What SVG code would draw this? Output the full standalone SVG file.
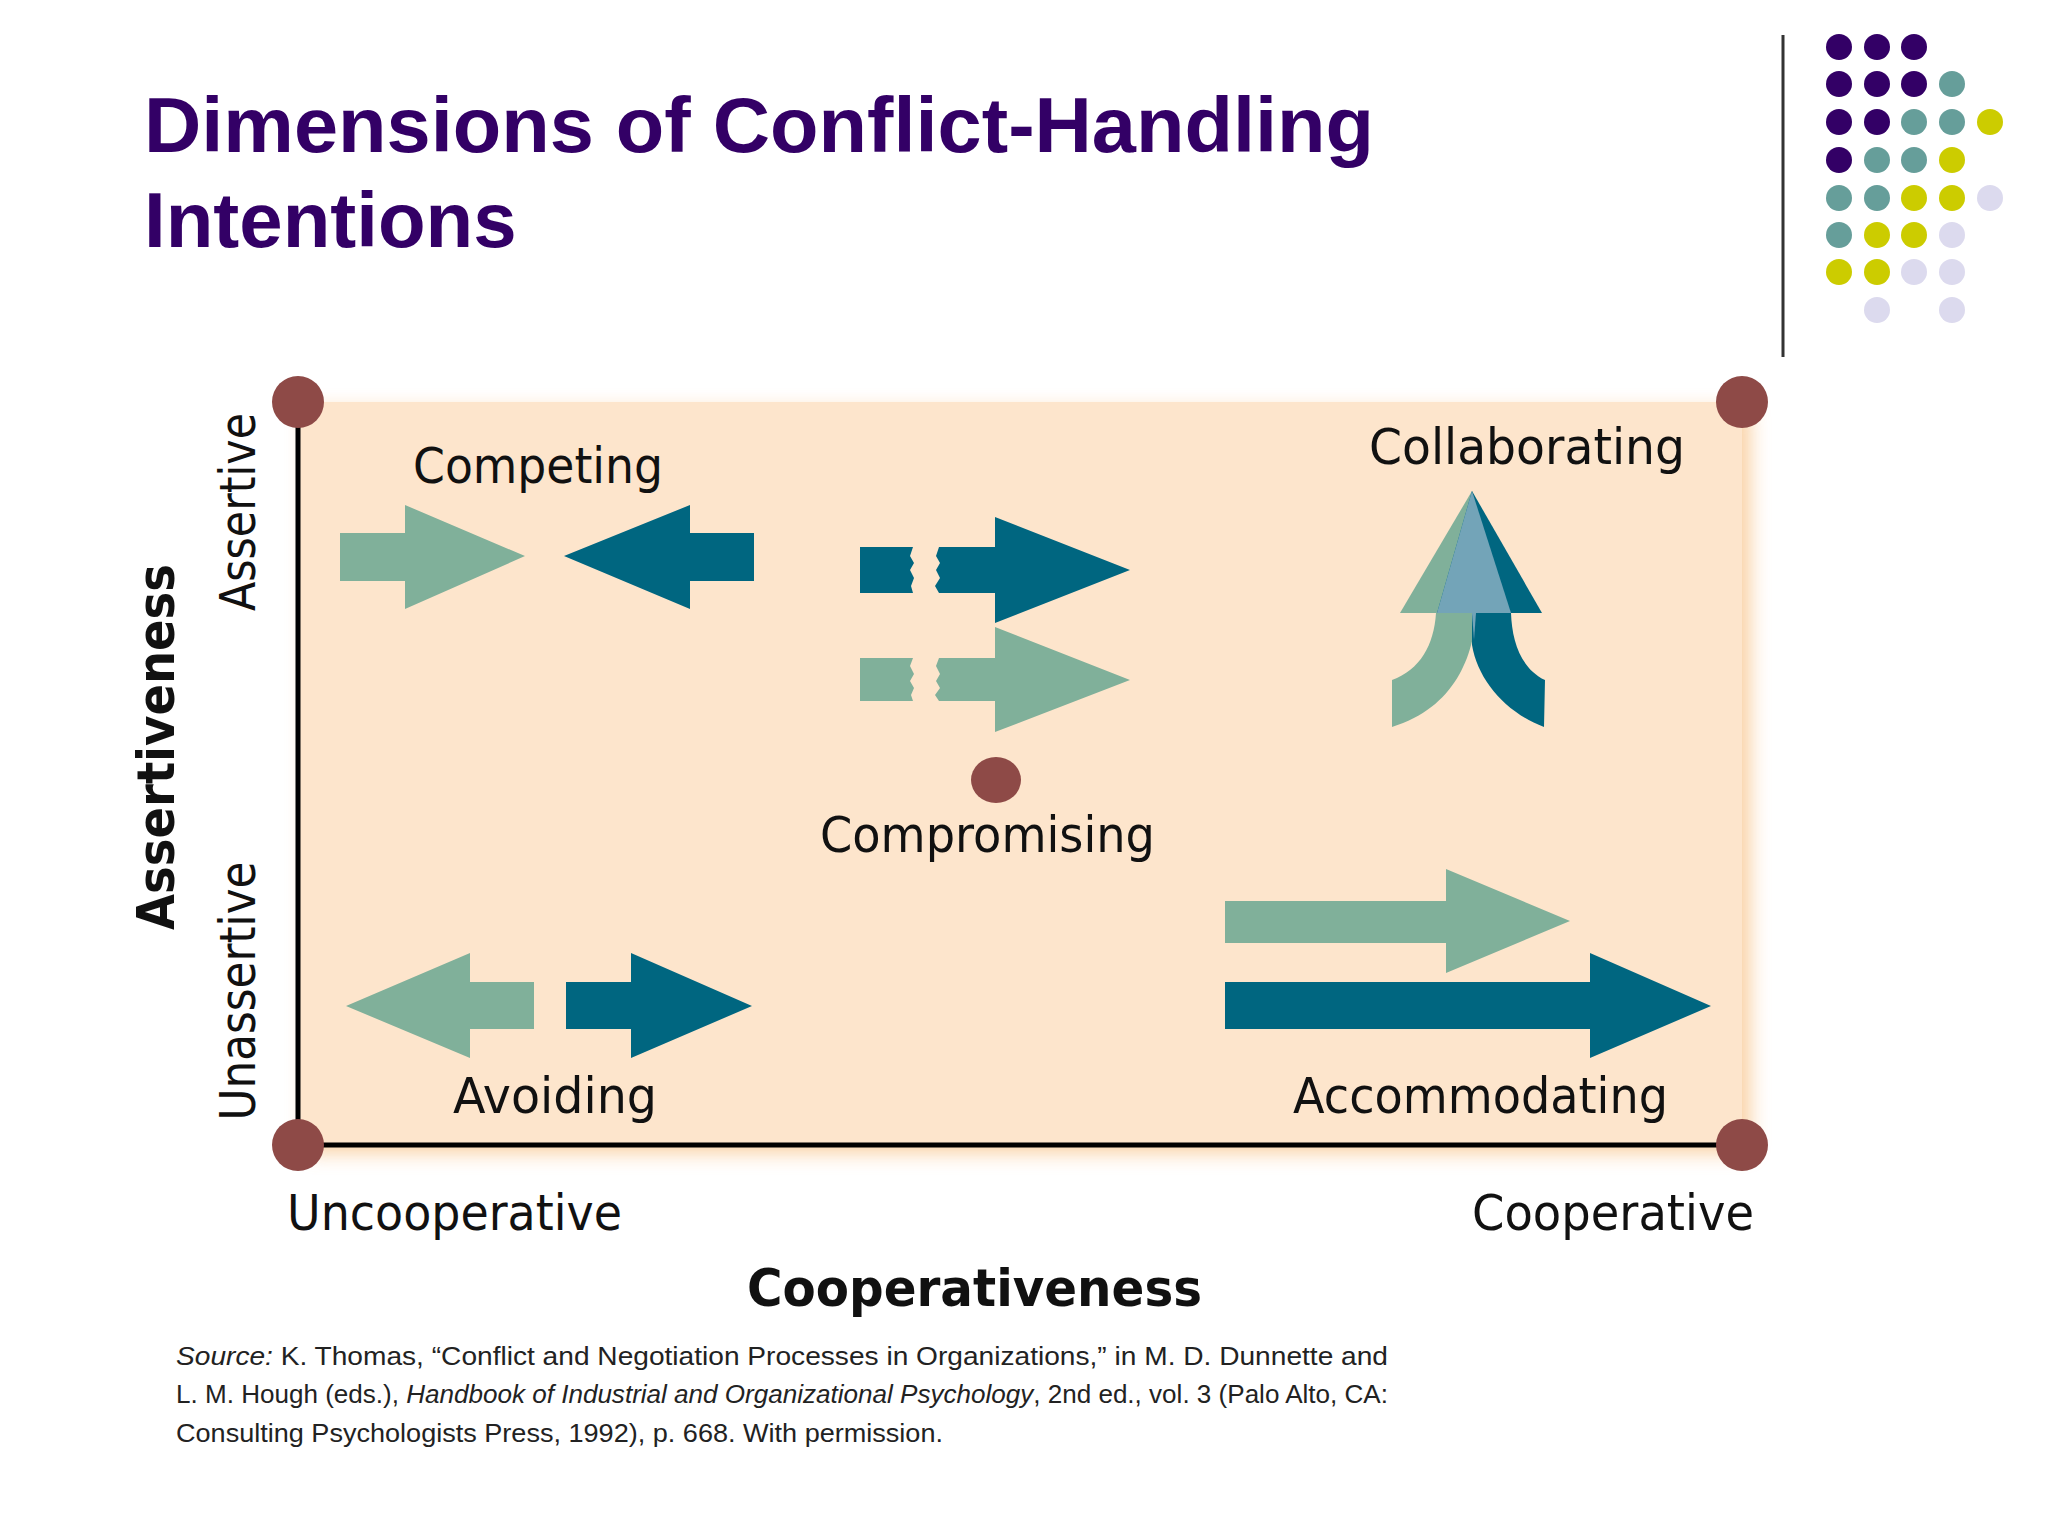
<svg xmlns="http://www.w3.org/2000/svg" width="2048" height="1536" viewBox="0 0 2048 1536">
<defs>
<style>
.t{font-family:"DejaVu Sans","Liberation Sans",sans-serif;fill:#111}
.lbl{font-size:50px}
.src{font-family:"Liberation Sans",sans-serif;font-size:26px;fill:#222}
.p{fill:#330066}.g{fill:#669e9a}.y{fill:#cccc00}.l{fill:#dcdaee}
.lt{fill:#80b09a}.dk{fill:#006680}.dot{fill:#8e4a47}
</style>
<filter id="sh" x="-10%" y="-10%" width="120%" height="120%"><feGaussianBlur stdDeviation="10"/></filter>
</defs>
<rect width="2048" height="1536" fill="#ffffff"/>
<g id="title"><text x="144" y="152" font-family="Liberation Sans,Arial,sans-serif" font-weight="bold" font-size="78" fill="#330066" textLength="1230" lengthAdjust="spacingAndGlyphs">Dimensions of Conflict-Handling</text>
<text x="144" y="247" font-family="Liberation Sans,Arial,sans-serif" font-weight="bold" font-size="78" fill="#330066">Intentions</text></g>
<g id="decor">
<line x1="1783" y1="35" x2="1783" y2="357" stroke="#333" stroke-width="3"/>
<circle class="p" cx="1839" cy="47" r="13"/><circle class="p" cx="1877" cy="47" r="13"/><circle class="p" cx="1914" cy="47" r="13"/>
<circle class="p" cx="1839" cy="84" r="13"/><circle class="p" cx="1877" cy="84" r="13"/><circle class="p" cx="1914" cy="84" r="13"/><circle class="g" cx="1952" cy="84" r="13"/>
<circle class="p" cx="1839" cy="122" r="13"/><circle class="p" cx="1877" cy="122" r="13"/><circle class="g" cx="1914" cy="122" r="13"/><circle class="g" cx="1952" cy="122" r="13"/><circle class="y" cx="1990" cy="122" r="13"/>
<circle class="p" cx="1839" cy="160" r="13"/><circle class="g" cx="1877" cy="160" r="13"/><circle class="g" cx="1914" cy="160" r="13"/><circle class="y" cx="1952" cy="160" r="13"/>
<circle class="g" cx="1839" cy="198" r="13"/><circle class="g" cx="1877" cy="198" r="13"/><circle class="y" cx="1914" cy="198" r="13"/><circle class="y" cx="1952" cy="198" r="13"/><circle class="l" cx="1990" cy="198" r="13"/>
<circle class="g" cx="1839" cy="235" r="13"/><circle class="y" cx="1877" cy="235" r="13"/><circle class="y" cx="1914" cy="235" r="13"/><circle class="l" cx="1952" cy="235" r="13"/>
<circle class="y" cx="1839" cy="272" r="13"/><circle class="y" cx="1877" cy="272" r="13"/><circle class="l" cx="1914" cy="272" r="13"/><circle class="l" cx="1952" cy="272" r="13"/>
<circle class="l" cx="1877" cy="310" r="13"/><circle class="l" cx="1952" cy="310" r="13"/>
</g>
<g id="panel">
<rect x="306" y="410" width="1444" height="743" fill="#f8c48a" filter="url(#sh)" opacity="0.8"/>
<rect x="298" y="402" width="1444" height="743" fill="#fde5cc"/>
</g>
<g id="connectors">
<line x1="298" y1="402" x2="298" y2="1145" stroke="#000" stroke-width="5"/>
<line x1="298" y1="1145" x2="1742" y2="1145" stroke="#000" stroke-width="5"/>
</g>
<g id="corners">
<circle class="dot" cx="298" cy="402" r="26"/><circle class="dot" cx="1742" cy="402" r="26"/>
<circle class="dot" cx="298" cy="1145" r="26"/><circle class="dot" cx="1742" cy="1145" r="26"/>
</g>
<g id="competing">
<polygon class="lt" points="340,533 405,533 405,505 525,556 405,609 405,581 340,581"/>
<polygon class="dk" points="564,556 690,505 690,533 754,533 754,581 690,581 690,609"/>
<text class="t lbl" x="413" y="483" textLength="250" lengthAdjust="spacingAndGlyphs">Competing</text>
</g>
<g id="compromising">
<polygon class="dk" points="860,547 913,547 910,556 914,563 910,570 914,578 911,586 913,593 860,593"/>
<polygon class="dk" points="939,547 995,547 995,517 1130,570 995,623 995,593 939,593 935,586 940,578 936,570 940,563 936,556"/>
<polygon class="lt" points="860,658 913,658 910,666 914,674 910,681 914,688 911,695 913,701 860,701"/>
<polygon class="lt" points="939,658 995,658 995,627 1130,680 995,732 995,701 939,701 935,695 940,688 936,681 940,674 936,666"/>
<ellipse class="dot" cx="996" cy="780" rx="25" ry="23"/>
<text class="t lbl" x="820" y="852" textLength="335" lengthAdjust="spacingAndGlyphs">Compromising</text>
</g>
<g id="collaborating">
<path class="lt" d="M1392,727 L1392,680 C1420,670 1434,645 1436,613 L1476,613 C1474,655 1455,708 1392,727 Z"/>
<path class="dk" d="M1472,613 L1511,613 C1512,640 1520,668 1545,680 L1544,727 C1505,712 1478,680 1472,645 Z"/>
<polygon class="lt" points="1472,491 1400,613 1511,613"/>
<polygon class="dk" points="1472,491 1437,613 1542,613"/>
<polygon fill="#73a4b8" points="1472,491 1437,613 1511,613"/>
<polygon fill="#73a4b8" points="1472,613 1476,613 1474,640"/>
<text class="t lbl" x="1369" y="464" textLength="316" lengthAdjust="spacingAndGlyphs">Collaborating</text>
</g>
<g id="avoiding">
<polygon class="lt" points="346,1006 470,953 470,982 534,982 534,1029 470,1029 470,1058"/>
<polygon class="dk" points="566,982 631,982 631,953 752,1006 631,1058 631,1029 566,1029"/>
<text class="t lbl" x="453" y="1113" textLength="204" lengthAdjust="spacingAndGlyphs">Avoiding</text>
</g>
<g id="accommodating">
<polygon class="lt" points="1225,901 1446,901 1446,869 1570,921 1446,973 1446,943 1225,943"/>
<polygon class="dk" points="1225,982 1590,982 1590,953 1711,1006 1590,1058 1590,1029 1225,1029"/>
<text class="t lbl" x="1293" y="1113" textLength="375" lengthAdjust="spacingAndGlyphs">Accommodating</text>
</g>
<g id="axes-labels">
<text class="t lbl" x="287" y="1230" textLength="335" lengthAdjust="spacingAndGlyphs">Uncooperative</text>
<text class="t lbl" x="1472" y="1230" textLength="282" lengthAdjust="spacingAndGlyphs">Cooperative</text>
<text class="t" x="747" y="1306" font-size="52" font-weight="bold" textLength="455" lengthAdjust="spacingAndGlyphs">Cooperativeness</text>
<text class="t lbl" transform="translate(255,512) rotate(-90)" text-anchor="middle" textLength="198" lengthAdjust="spacingAndGlyphs">Assertive</text>
<text class="t lbl" transform="translate(255,991) rotate(-90)" text-anchor="middle" textLength="259" lengthAdjust="spacingAndGlyphs">Unassertive</text>
<text class="t" transform="translate(174,747) rotate(-90)" text-anchor="middle" font-size="52" font-weight="bold" textLength="366" lengthAdjust="spacingAndGlyphs">Assertiveness</text>
</g>
<g id="source">
<text class="src" x="176" y="1365" textLength="1212" lengthAdjust="spacingAndGlyphs"><tspan font-style="italic">Source:</tspan> K. Thomas, “Conflict and Negotiation Processes in Organizations,” in M. D. Dunnette and</text>
<text class="src" x="176" y="1403" textLength="1212" lengthAdjust="spacingAndGlyphs">L. M. Hough (eds.), <tspan font-style="italic">Handbook of Industrial and Organizational Psychology</tspan>, 2nd ed., vol. 3 (Palo Alto, CA:</text>
<text class="src" x="176" y="1442" textLength="767" lengthAdjust="spacingAndGlyphs">Consulting Psychologists Press, 1992), p. 668. With permission.</text>
</g>
</svg>
